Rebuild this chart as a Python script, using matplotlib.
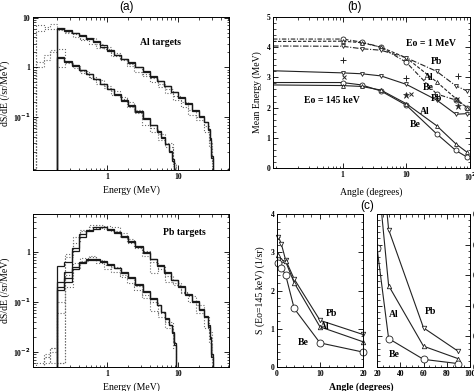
import numpy as np
import matplotlib
matplotlib.use("Agg")
import matplotlib.pyplot as plt
from matplotlib.ticker import LogLocator, MultipleLocator, FixedLocator, NullFormatter

plt.rcParams['font.family'] = ['Liberation Serif', 'DejaVu Serif']
plt.rcParams['font.weight'] = 'bold'
plt.rcParams['font.size'] = 6.5

# ---- (a) energy spectra: bin edges (MeV) ----
edges_hi = [0.2, 0.25, 0.32, 0.4, 0.5, 0.63, 0.79, 1.0, 1.26, 1.58, 2.0, 2.5, 3.2, 4.0,
            5.0, 6.3, 7.9, 10, 12.6, 15.8, 20, 23, 26, 28, 29.5, 30.5]
edges_lo = [0.2, 0.25, 0.32, 0.4, 0.5, 0.63, 0.79, 1.0, 1.26, 1.58, 2.0, 2.5, 3.2, 4.0,
            5.0, 5.8, 6.6, 7.4, 8.1, 8.7, 9.2]
edges_dhi = [0.1, 0.13, 0.16, 0.2, 0.26, 0.33, 0.42, 0.55, 0.7, 0.9, 1.15, 1.5, 1.9, 2.4,
             3.1, 4.0, 5.2, 6.6, 8.5, 11, 14, 18, 23, 27, 30, 31]
edges_dlo = [0.1, 0.13, 0.16, 0.2, 0.26, 0.33, 0.42, 0.55, 0.7, 0.9, 1.15, 1.5, 1.9, 2.4,
             3.1, 4.0, 5.2, 6.6, 8.5, 9.4]

# Al targets
al_hi_a = [6.0, 5.4, 4.9, 4.4, 3.9, 3.3, 2.6, 2.1, 1.75, 1.45, 1.2, 1.0, 0.8, 0.65, 0.52,
           0.41, 0.31, 0.24, 0.18, 0.13, 0.1, 0.078, 0.055, 0.035, 0.015]
al_hi_b = [6.3, 5.6, 5.0, 4.2, 3.7, 3.4, 2.8, 2.2, 1.8, 1.5, 1.25, 1.02, 0.83, 0.66, 0.54,
           0.42, 0.32, 0.25, 0.19, 0.135, 0.105, 0.08, 0.058, 0.037, 0.016]
al_hi_d1 = [7.0, 6.5, 7.5, 6.2, 5.0, 4.6, 3.7, 3.8, 2.9, 2.3, 1.9, 1.5, 1.15, 1.0, 0.72,
            0.62, 0.45, 0.37, 0.26, 0.2, 0.14, 0.1, 0.065, 0.03, 0.012]
al_hi_d2 = [5.5, 6.0, 5.8, 5.6, 5.2, 4.0, 3.6, 3.0, 2.4, 2.6, 1.7, 1.4, 1.05, 0.82, 0.68,
            0.5, 0.4, 0.3, 0.22, 0.16, 0.11, 0.085, 0.05, 0.025, 0.01]
al_lo_a = [1.55, 1.3, 1.1, 0.9, 0.72, 0.58, 0.45, 0.36, 0.28, 0.21, 0.165, 0.125, 0.092,
           0.068, 0.05, 0.038, 0.028, 0.02, 0.013, 0.006]
al_lo_b = [1.6, 1.35, 1.05, 0.88, 0.74, 0.57, 0.46, 0.37, 0.29, 0.22, 0.17, 0.13, 0.095,
           0.07, 0.052, 0.039, 0.029, 0.021, 0.014, 0.007]
al_lo_d1 = [1.0, 1.4, 2.2, 2.3, 1.2, 1.1, 0.85, 0.65, 0.55, 0.42, 0.34, 0.23, 0.2, 0.14,
            0.07, 0.06, 0.045, 0.03, 0.012]
al_lo_d2 = [1.3, 1.8, 2.0, 1.0, 1.25, 0.95, 0.75, 0.6, 0.45, 0.38, 0.28, 0.25, 0.16, 0.12,
            0.095, 0.05, 0.035, 0.025, 0.01]

# Pb targets
pb_hi_a = [0.52, 0.63, 1.05, 2.3, 2.8, 3.1, 3.1, 2.9, 2.5, 2.0, 1.6, 1.25, 0.95, 0.72, 0.52,
           0.38, 0.27, 0.2, 0.14, 0.1, 0.07, 0.05, 0.032, 0.018, 0.008]
pb_hi_b = [0.25, 0.4, 1.2, 2.0, 2.6, 2.9, 3.2, 2.8, 2.4, 2.05, 1.65, 1.3, 0.98, 0.74, 0.54,
           0.39, 0.28, 0.21, 0.145, 0.105, 0.072, 0.052, 0.034, 0.02, 0.009]
pb_hi_d1 = [0.006, 0.009, 0.012, 0.1, 0.8, 1.5, 2.6, 3.2, 3.5, 3.3, 3.2, 2.4, 1.8, 1.3, 1.05,
            0.38, 0.55, 0.33, 0.24, 0.16, 0.13, 0.085, 0.05, 0.025, 0.008]
pb_hi_d2 = [0.004, 0.008, 0.006, 0.006, 0.9, 2.0, 2.8, 3.4, 3.0, 2.9, 2.6, 2.0, 1.5, 1.2,
            0.85, 0.62, 0.45, 0.25, 0.22, 0.15, 0.1, 0.06, 0.03, 0.015, 0.006]
pb_lo_a = [0.2, 0.3, 0.45, 0.62, 0.72, 0.7, 0.65, 0.58, 0.48, 0.39, 0.31, 0.22, 0.16, 0.115,
           0.085, 0.062, 0.046, 0.034, 0.024, 0.014]
pb_lo_b = [0.17, 0.25, 0.5, 0.6, 0.7, 0.72, 0.63, 0.56, 0.47, 0.38, 0.3, 0.23, 0.165, 0.12,
           0.088, 0.064, 0.048, 0.035, 0.025, 0.015]
pb_lo_d1 = [0.004, 0.006, 0.01, 0.06, 0.2, 0.45, 0.75, 0.8, 0.7, 0.45, 0.5, 0.32, 0.3, 0.21,
            0.14, 0.1, 0.05, 0.04, 0.016]
pb_lo_d2 = [0.005, 0.008, 0.012, 0.006, 0.35, 0.6, 0.65, 0.85, 0.6, 0.55, 0.4, 0.35, 0.24,
            0.17, 0.12, 0.065, 0.06, 0.03, 0.012]

# ---- (b) mean energy vs angle ----
angles = [1, 2, 4, 10, 30, 60, 90]
fwd_1mev = [4.27, 4.19, 4.04]          # Be, Al, Pb (small-angle limit)
e1_be = [4.27, 4.17, 4.0, 3.5, 2.45, 2.25, 2.0]
e1_al = [4.2, 4.15, 4.0, 3.65, 2.85, 2.3, 2.0]
e1_pb = [4.03, 3.95, 3.9, 3.65, 3.2, 2.72, 2.55]
fwd_145 = [2.83, 2.75, 3.22]           # Be, Al, Pb
e145_be = [2.83, 2.75, 2.55, 2.08, 1.13, 0.58, 0.36]
e145_al = [2.73, 2.7, 2.58, 2.13, 1.4, 0.8, 0.52]
e145_pb = [3.15, 3.12, 3.05, 2.77, 2.25, 1.78, 1.8]
exp_plus_x = [1, 10, 65]
exp_plus_y = [3.57, 2.97, 3.06]
exp_star_x = [10, 65]
exp_star_y = [2.42, 2.06]
exp_x_x = [1.05, 12, 62]
exp_x_y = [3.0, 2.45, 2.3]

# ---- (c) S vs angle ----
c_ang_l = [0.3, 1, 2, 4, 10, 20]
c_pb_l = [3.41, 3.22, 2.8, 2.3, 1.22, 0.85]
c_al_l = [2.93, 2.8, 2.76, 2.2, 1.05, 0.66]
c_be_l = [2.72, 2.6, 2.41, 1.53, 0.63, 0.39]
c_ang_r = [20, 30, 60, 90]
c_pb_r = [0.85, 0.449, 0.128, 0.051]
c_al_r = [0.66, 0.266, 0.068, 0.027]
c_be_r = [0.39, 0.093, 0.025, 0.011]

fig = plt.figure(figsize=(4.74, 3.91), dpi=100)
W, H = 474.0, 391.0


def box(l, t, r, b):
    return [l / W, 1 - b / H, (r - l) / W, (b - t) / H]


def style(ax):
    ax.tick_params(which='both', direction='in', top=True, right=True, labelsize=5.5, pad=2)
    ax.tick_params(which='major', length=3.5, width=0.6)
    ax.tick_params(which='minor', length=1.8, width=0.5)
    for s in ax.spines.values():
        s.set_linewidth(0.7)


def spectrum(ax, ylo, yhi, groups):
    for edges, vals, ls, lw, col in groups:
        ax.stairs(vals, edges, baseline=1e-5, color=col, linestyle=ls, linewidth=lw)
    ax.set_xscale('log')
    ax.set_yscale('log')
    ax.set_xlim(0.091, 52)
    ax.set_ylim(ylo, yhi)
    ax.xaxis.set_major_locator(FixedLocator([1, 10]))
    ax.set_xticklabels(['1', '10'])
    ax.xaxis.set_minor_locator(LogLocator(base=10, subs=np.arange(2, 10)))
    ax.xaxis.set_minor_formatter(NullFormatter())
    ax.yaxis.set_minor_locator(LogLocator(base=10, subs=np.arange(2, 10)))
    ax.yaxis.set_minor_formatter(NullFormatter())
    style(ax)
    ax.set_xlabel('Energy (MeV)', fontsize=7, labelpad=3)
    ax.set_ylabel('dS/dE (/sr/MeV)', fontsize=7, labelpad=2)


dcol = '#6a6a6a'
scol = '#1a1a1a'

ax1 = fig.add_axes(box(33, 17, 229, 170))
spectrum(ax1, 0.0085, 10.3, [
    (edges_dhi, al_hi_d1, ':', 0.8, dcol), (edges_dhi, al_hi_d2, ':', 0.8, dcol),
    (edges_dlo, al_lo_d1, ':', 0.8, dcol), (edges_dlo, al_lo_d2, ':', 0.8, dcol),
    (edges_hi, al_hi_a, '-', 0.9, scol), (edges_hi, al_hi_b, '-', 0.9, scol),
    (edges_lo, al_lo_a, '-', 0.9, scol), (edges_lo, al_lo_b, '-', 0.9, scol)])
ax1.set_yticks([0.1, 1, 10])
ax1.set_yticklabels(['10$^{-1}$', '1', '10'])
ax1.text(5.6, 3.2, 'Al targets', ha='center', va='center', fontsize=7)

ax2 = fig.add_axes(box(33, 214, 229, 367))
spectrum(ax2, 0.005, 5.75, [
    (edges_dhi, pb_hi_d1, ':', 0.8, dcol), (edges_dhi, pb_hi_d2, ':', 0.8, dcol),
    (edges_dlo, pb_lo_d1, ':', 0.8, dcol), (edges_dlo, pb_lo_d2, ':', 0.8, dcol),
    (edges_hi, pb_hi_a, '-', 0.9, scol), (edges_hi, pb_hi_b, '-', 0.9, scol),
    (edges_lo, pb_lo_a, '-', 0.9, scol), (edges_lo, pb_lo_b, '-', 0.9, scol)])
ax2.set_yticks([0.01, 0.1, 1])
ax2.set_yticklabels(['10$^{-2}$', '10$^{-1}$', '1'])
ax2.text(12.2, 2.4, 'Pb targets', ha='center', va='center', fontsize=7)

# ---- (b) ----
xmin_b = 0.081
ax3 = fig.add_axes(box(273, 17, 470, 168))
mk = dict(markerfacecolor='white', markeredgewidth=0.6, color='#222222')
groups_b = [
    (fwd_1mev[0], e1_be, 'o', 3.6, (0, (4, 1.5, 1, 1.5))),
    (fwd_1mev[1], e1_al, '^', 2.8, (0, (3, 1.5))),
    (fwd_1mev[2], e1_pb, 'v', 2.8, (0, (5, 1.5, 1, 1.5))),
    (fwd_145[0], e145_be, 'o', 3.6, '-'),
    (fwd_145[1], e145_al, '^', 2.8, '-'),
    (fwd_145[2], e145_pb, 'v', 2.8, '-'),
]
for f, vals, m, ms, ls in groups_b:
    ax3.plot([xmin_b] + angles, [f] + vals, linestyle=ls, linewidth=0.8, marker=m,
             markersize=ms, markevery=list(range(1, len(angles) + 1)), **mk)
ax3.plot(exp_plus_x, exp_plus_y, '+', color='#222222', markersize=4.5, mew=0.7)
ax3.plot(exp_star_x, exp_star_y, '*', color='#222222', markersize=4.5, mew=0.4)
ax3.plot(exp_x_x, exp_x_y, 'x', color='#222222', markersize=3.5, mew=0.7)
ax3.set_xscale('log')
ax3.set_xlim(xmin_b, 100)
ax3.set_ylim(0, 5)
ax3.xaxis.set_major_locator(FixedLocator([1, 10, 100]))
ax3.set_xticklabels(['1', '10', '10$^2$'])
ax3.xaxis.set_minor_locator(LogLocator(base=10, subs=np.arange(2, 10)))
ax3.xaxis.set_minor_formatter(NullFormatter())
ax3.yaxis.set_major_locator(MultipleLocator(1))
ax3.yaxis.set_minor_locator(MultipleLocator(0.2))
style(ax3)
ax3.set_xlabel('Angle (degrees)', fontsize=7, labelpad=3)
ax3.set_ylabel('Mean Energy (MeV)', fontsize=7, labelpad=3)
ax3.text(10, 4.12, 'Eo = 1 MeV', fontsize=7, va='center')
ax3.text(0.25, 2.25, 'Eo = 145 keV', fontsize=7, va='center')
for x, y, t in [(30, 3.52, 'Pb'), (22.8, 2.99, 'Al'), (22.3, 2.67, 'Be'),
                (30, 2.29, 'Pb'), (19.8, 1.87, 'Al'), (13.8, 1.43, 'Be')]:
    ax3.text(x, y, t, fontsize=7, ha='center', va='center')

# ---- (c) ----
ax4 = fig.add_axes(box(277, 214, 363, 367))
ax5 = fig.add_axes(box(377, 214, 470, 367))
for vals, m in [(c_pb_l, 'v'), (c_al_l, '^'), (c_be_l, 'o')]:
    ax4.plot(c_ang_l, vals, marker=m, linewidth=0.8,
             markersize=3.2 if m != 'o' else 5, markerfacecolor='white',
             markeredgewidth=0.6, color='#222222', clip_on=False)
for vals, m in [(c_pb_r, 'v'), (c_al_r, '^'), (c_be_r, 'o')]:
    ax5.plot(c_ang_r, vals, marker=m, linewidth=0.8,
             markersize=3.2 if m != 'o' else 5, markerfacecolor='white',
             markeredgewidth=0.6, color='#222222')
ax4.set_xlim(0, 20)
ax4.set_ylim(0, 4)
ax4.xaxis.set_major_locator(MultipleLocator(10))
ax4.xaxis.set_minor_locator(MultipleLocator(2))
ax4.yaxis.set_major_locator(MultipleLocator(1))
ax4.yaxis.set_minor_locator(MultipleLocator(0.2))
style(ax4)
ax4.set_ylabel('S (Eo=145 keV) (1/sr)', fontsize=7, labelpad=4)
ax4.text(12.7, 1.4, 'Pb', fontsize=7, ha='center', va='center')
ax4.text(11.2, 1.05, 'Al', fontsize=7, ha='center', va='center')
ax4.text(6.1, 0.65, 'Be', fontsize=7, ha='center', va='center')

ax5.set_xlim(20, 100)
ax5.set_ylim(0, 0.5)
ax5.xaxis.set_major_locator(MultipleLocator(20))
ax5.xaxis.set_minor_locator(MultipleLocator(5))
ax5.yaxis.set_major_locator(MultipleLocator(0.1))
ax5.yaxis.set_minor_locator(MultipleLocator(0.02))
style(ax5)
ax5.tick_params(labelleft=False, labelright=True)
ax5.yaxis.set_major_formatter(plt.FormatStrFormatter('%.1f'))
ax5.text(34.8, 0.17, 'Al', fontsize=7, ha='center', va='center')
ax5.text(65.7, 0.18, 'Pb', fontsize=7, ha='center', va='center')
ax5.text(34.8, 0.04, 'Be', fontsize=7, ha='center', va='center')

fig.text(361 / W, 1 - 387 / H, 'Angle (degrees)', fontsize=7, ha='center', va='center')

# panel letters
for x, y, t in [(127, 7, '(a)'), (355, 7, '(b)'), (367, 206, '(c)')]:
    fig.text(x / W, 1 - y / H, t, fontsize=8.5, ha='center', va='center',
             family=['Liberation Sans', 'DejaVu Sans'], weight='normal')

fig.savefig('out.png', dpi=100)
